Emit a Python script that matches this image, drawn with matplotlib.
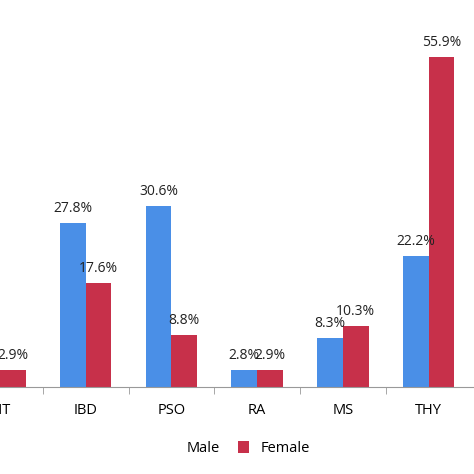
import matplotlib.pyplot as plt
import numpy as np

plt.rcParams['font.family'] = ['Open Sans', 'DejaVu Sans']

categories = ["AIT", "IBD", "PSO", "RA", "MS", "THY"]
male = [5.6, 27.8, 30.6, 2.8, 8.3, 22.2]
female = [2.9, 17.6, 8.8, 2.9, 10.3, 55.9]

blue = "#4a8fe7"
red = "#c7304a"

fig = plt.figure(figsize=(4.74, 4.74), dpi=100)
ax = fig.add_axes([0, 0.184, 1, 0.747])
x = np.arange(len(categories))
w = 0.3
bm = ax.bar(x - w / 2, male, w, color=blue, label="Male")
bf = ax.bar(x + w / 2, female, w, color=red, label="Female")
for bars, vals in ((bm, male), (bf, female)):
    for b, v in zip(bars, vals):
        t = ax.text(b.get_x() + b.get_width() / 2, v + 1.2, f"{v}%", ha="center",
                    va="bottom", fontsize=10, color="#222222")
# the first category sits mostly outside the cropped frame
bm[0].set_visible(False)
ax.texts[0].set_visible(False)

ax.set_xlim(0.08, 5.53)
ax.set_ylim(0, 60)
ax.set_yticks([])
ax.set_xticks(x)
ax.set_xticklabels(categories, fontsize=10.5)
ax.set_xticks(x[:-1] + 0.5, minor=True)
ax.tick_params(axis="x", which="major", length=0, pad=12)
ax.tick_params(axis="x", which="minor", length=5, color="#999999")
for s in ["top", "right", "left"]:
    ax.spines[s].set_visible(False)
ax.spines["bottom"].set_color("#999999")

fig.legend(loc="lower center", bbox_to_anchor=(0.5, 0.01), ncol=2, frameon=False,
           fontsize=10.5, handlelength=0.8, handleheight=0.8, columnspacing=1.2)
fig.savefig("out.png", dpi=100)
